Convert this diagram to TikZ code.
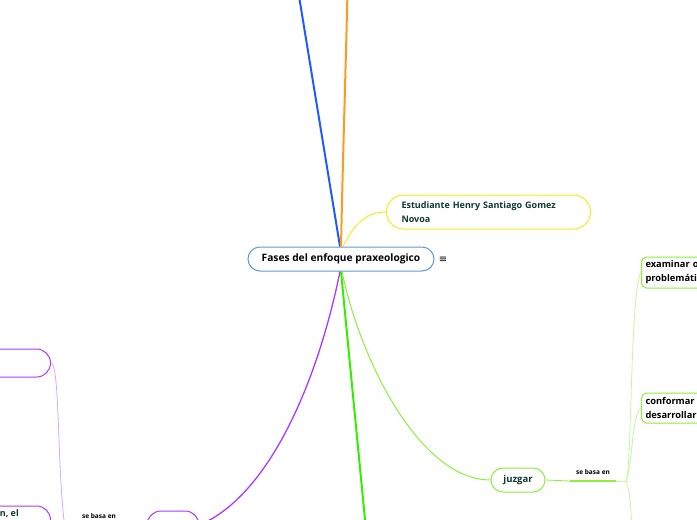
\documentclass[tikz,border=0pt]{standalone}
\usepackage{fontspec}
\setmainfont{Open Sans}
\newfontfamily\symfont{DejaVu Sans}
\definecolor{cblue}{HTML}{5B9BD5}
\definecolor{lblue}{HTML}{1F5BFF}
\definecolor{corange}{HTML}{FF9A1F}
\definecolor{cyellow}{HTML}{EEEE22}
\definecolor{cpurple}{HTML}{A93CFF}
\definecolor{lpurple}{HTML}{D9A8FF}
\definecolor{cgreen}{HTML}{33EE00}
\definecolor{cygreen}{HTML}{8DEF3A}
\definecolor{lygreen}{HTML}{C9F5A2}
\definecolor{dgreen}{HTML}{0E3B2C}
\tikzset{
  topic/.style={draw, line width=1pt, fill=white, rounded corners=#1, font=\bfseries\fontsize{10}{12}\selectfont, inner sep=0pt},
  lbl/.style={font=\fontsize{6.5}{8}\selectfont\bfseries, text=black, inner sep=0pt},
}
\begin{document}
\begin{tikzpicture}[x=1pt,y=-1pt]
\useasboundingbox (0,0) rectangle (697,520);
\clip (0,0) rectangle (697,520);
\fill[white] (0,0) rectangle (697,520);

% coordinates of free ends
\coordinate (blueend) at (298,-10);
\coordinate (orangeend) at (347.5,-10);
\coordinate (greenend) at (366,530);
\coordinate (jbranch) at (626,481);
\coordinate (jdown) at (632,530);
\coordinate (pbranch) at (65,528);

% nodes
\node[topic=12, draw=cblue, minimum width=186pt, minimum height=24pt, text=black, font=\bfseries\fontsize{10.2}{12}\selectfont] (c) at (341,259) {Fases del enfoque praxeologico};
\node[font=\symfont\fontsize{10}{10}\selectfont, inner sep=0pt] (menu) at (443,260) {≡};
\node[topic=17, draw=cyellow, minimum width=204pt, minimum height=34pt, text=dgreen, anchor=west, align=left, text width=174pt, inner xsep=15pt, font=\bfseries\fontsize{9}{14}\selectfont] (stud) at (386,212) {Estudiante Henry Santiago Gomez\\Novoa};
\node[topic=12, draw=cygreen, minimum width=54pt, minimum height=24pt, text=dgreen, font=\bfseries\fontsize{9.5}{12}\selectfont] (juz) at (518,480) {juzgar};
\node[topic=5, draw=cygreen, minimum height=31pt, anchor=west, align=left, text width=100pt, inner xsep=4pt, text=black, font=\bfseries\fontsize{9.3}{14}\selectfont] (exam) at (641,272.5) {examinar otras\\problemáticas};
\node[topic=5, draw=cygreen, minimum height=30pt, anchor=west, align=left, text width=100pt, inner xsep=4pt, text=black, font=\bfseries\fontsize{9.3}{14}\selectfont] (conf) at (641,408) {conformar un\\desarrollar las};
\node[topic=14, draw=cpurple, minimum width=130pt, minimum height=28pt, anchor=east] (lup) at (51,363) {};
\node[topic=14, draw=cpurple, minimum width=130pt, minimum height=32pt, anchor=east] (llow) at (51,522) {};
\node[font=\bfseries\fontsize{9}{10}\selectfont, text=dgreen, anchor=east, inner sep=0pt] (llowtxt) at (19,514) {acción, el};
\node[topic=14, draw=cpurple, minimum width=52pt, minimum height=28pt] (pbox) at (173,525) {};
\node[lbl] (jlab) at (593,472) {se basa en};
\node[lbl] (plab) at (99,516) {se basa en};

% main connectors
\draw[lblue, line width=2pt] ([xshift=-1pt]c.north) -- (blueend);
\draw[corange, line width=2pt] ([xshift=0pt]c.north) .. controls (343,150) and (346,60) .. (orangeend);
\draw[cyellow, line width=1pt] ([xshift=2pt]c.north) .. controls (355,222) and (368,212) .. (stud.west);
\draw[cpurple, line width=1.3pt] ([xshift=-1pt]c.south) .. controls (318,380) and (270,495) .. (pbox.east);
\draw[cgreen, line width=2pt] ([xshift=0pt]c.south) -- (greenend);
\draw[cygreen, line width=1pt] ([xshift=1pt]c.south) .. controls (360,360) and (420,480) .. (juz.west);

% juzgar branch
\draw[cygreen, line width=0.8pt] (juz.east) -- (570,481);
\draw[cygreen, line width=2pt] (570,481) -- (616,481);
\draw[lygreen, line width=0.8pt] (616,481) -- (jbranch);
\draw[lygreen, line width=0.8pt] (jbranch) .. controls (632,470) and (630,290) .. (exam.west);
\draw[lygreen, line width=0.8pt] (jbranch) .. controls (632,470) and (632,412) .. (conf.west);
\draw[lygreen, line width=0.8pt] (jbranch) .. controls (630,490) and (631,510) .. (jdown);

% left purple branch
\draw[lpurple, line width=0.8pt] (lup.east) .. controls (60,363) and (57,470) .. (pbranch);
\draw[lpurple, line width=0.8pt] (pbranch) .. controls (60,525) and (56,522) .. (llow.east);
\draw[lpurple, line width=0.8pt] (pbox.west) -- (130,528) -- (pbranch);
\end{tikzpicture}
\end{document}
